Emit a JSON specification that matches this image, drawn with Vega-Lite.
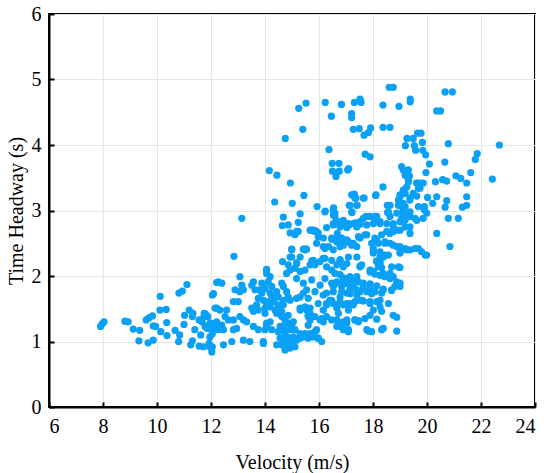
{
  "$schema": "https://vega.github.io/schema/vega-lite/v6.json",
  "width": 486,
  "height": 393,
  "autosize": "none",
  "padding": {"left": 49, "top": 14, "right": 15, "bottom": 66},
  "background": "white",
  "config": {"view": {"stroke": "black", "strokeWidth": 2}, "font": "Liberation Serif"},
  "data": {"values": [
{"v":18.6,"h":4.88},{"v":18.75,"h":4.88},{"v":20.67,"h":4.81},{"v":20.94,"h":4.81},{"v":15.25,"h":4.56},{"v":15.52,"h":4.64},{"v":16.23,"h":4.65},{"v":16.83,"h":4.62},{"v":17.31,"h":4.65},{"v":17.52,"h":4.7},{"v":17.56,"h":4.65},{"v":18.37,"h":4.61},{"v":18.96,"h":4.59},{"v":19.38,"h":4.7},{"v":19.38,"h":4.66},{"v":20.36,"h":4.52},{"v":20.5,"h":4.52},{"v":16.46,"h":4.44},{"v":17.21,"h":4.48},{"v":17.21,"h":4.42},{"v":15.4,"h":4.24},{"v":14.75,"h":4.1},{"v":17.27,"h":4.24},{"v":17.49,"h":4.25},{"v":17.91,"h":4.26},{"v":17.83,"h":4.19},{"v":17.67,"h":4.15},{"v":18.37,"h":4.27},{"v":18.63,"h":4.27},{"v":19.26,"h":4.1},{"v":19.49,"h":4.1},{"v":19.65,"h":4.18},{"v":19.78,"h":4.18},{"v":19.2,"h":3.99},{"v":19.53,"h":3.99},{"v":19.83,"h":4.04},{"v":19.58,"h":3.92},{"v":19.84,"h":3.92},{"v":19.95,"h":3.85},{"v":20.79,"h":4.02},{"v":22.68,"h":4.0},{"v":16.37,"h":3.93},{"v":17.71,"h":3.86},{"v":17.89,"h":3.82},{"v":16.49,"h":3.72},{"v":16.74,"h":3.72},{"v":16.5,"h":3.6},{"v":16.75,"h":3.6},{"v":16.63,"h":3.52},{"v":17.06,"h":3.62},{"v":17.1,"h":3.64},{"v":14.16,"h":3.61},{"v":14.44,"h":3.54},{"v":14.94,"h":3.42},{"v":15.44,"h":3.23},{"v":14.36,"h":3.13},{"v":15.01,"h":3.11},{"v":14.68,"h":2.9},{"v":15.3,"h":2.95},{"v":14.64,"h":2.77},{"v":14.86,"h":2.78},{"v":15.23,"h":2.82},{"v":15.93,"h":3.06},{"v":16.23,"h":2.99},{"v":16.54,"h":3.04},{"v":16.53,"h":3.0},{"v":17.12,"h":3.08},{"v":17.22,"h":2.97},{"v":17.31,"h":3.25},{"v":17.37,"h":3.19},{"v":17.41,"h":3.08},{"v":17.67,"h":3.19},{"v":18.1,"h":3.23},{"v":18.37,"h":3.36},{"v":16.59,"h":2.91},{"v":16.71,"h":2.83},{"v":16.84,"h":2.8},{"v":16.53,"h":2.78},{"v":17.11,"h":2.78},{"v":17.34,"h":2.81},{"v":17.52,"h":2.79},{"v":17.74,"h":2.91},{"v":17.89,"h":2.91},{"v":18.14,"h":2.91},{"v":18.07,"h":2.83},{"v":18.26,"h":2.8},{"v":18.53,"h":3.08},{"v":18.54,"h":2.97},{"v":18.63,"h":2.91},{"v":18.88,"h":2.96},{"v":18.94,"h":3.16},{"v":19.0,"h":3.24},{"v":19.12,"h":3.31},{"v":19.25,"h":3.36},{"v":19.06,"h":3.67},{"v":19.12,"h":3.62},{"v":19.31,"h":3.62},{"v":19.19,"h":3.54},{"v":19.35,"h":3.53},{"v":19.31,"h":3.47},{"v":19.62,"h":3.42},{"v":19.74,"h":3.42},{"v":19.86,"h":3.42},{"v":19.68,"h":3.34},{"v":19.49,"h":3.26},{"v":19.37,"h":3.19},{"v":19.62,"h":3.22},{"v":19.06,"h":3.06},{"v":19.19,"h":3.06},{"v":19.12,"h":2.98},{"v":19.25,"h":2.91},{"v":19.06,"h":2.88},{"v":19.37,"h":2.91},{"v":19.56,"h":2.88},{"v":19.86,"h":2.88},{"v":19.9,"h":3.06},{"v":19.9,"h":3.01},{"v":19.96,"h":3.58},{"v":20.09,"h":3.71},{"v":20.31,"h":3.44},{"v":20.58,"h":3.47},{"v":20.73,"h":3.45},{"v":20.66,"h":3.74},{"v":20.02,"h":3.2},{"v":20.36,"h":3.21},{"v":20.21,"h":3.11},{"v":20.73,"h":3.15},{"v":20.67,"h":3.05},{"v":21.07,"h":3.53},{"v":21.25,"h":3.49},{"v":21.47,"h":3.42},{"v":21.62,"h":3.58},{"v":21.79,"h":3.78},{"v":21.86,"h":3.87},{"v":21.47,"h":3.21},{"v":21.47,"h":3.08},{"v":21.31,"h":3.05},{"v":20.79,"h":2.88},{"v":21.16,"h":2.88},{"v":22.42,"h":3.48},
{"v":13.14,"h":2.88},{"v":12.85,"h":2.3},{"v":14.93,"h":2.66},{"v":15.11,"h":2.63},{"v":15.23,"h":2.68},{"v":15.73,"h":2.7},{"v":15.88,"h":2.69},{"v":15.97,"h":2.6},{"v":14.99,"h":2.41},{"v":15.42,"h":2.41},{"v":15.54,"h":2.41},{"v":14.93,"h":2.29},{"v":14.65,"h":2.22},{"v":15.17,"h":2.2},{"v":15.73,"h":2.23},{"v":14.06,"h":2.1},{"v":14.86,"h":2.17},
{"v":7.91,"h":1.23},{"v":7.97,"h":1.27},{"v":8.04,"h":1.3},{"v":8.81,"h":1.31},{"v":8.93,"h":1.3},{"v":9.12,"h":1.19},{"v":9.36,"h":1.17},{"v":9.33,"h":1.01},{"v":9.67,"h":0.98},{"v":9.86,"h":1.02},{"v":9.6,"h":1.33},{"v":9.7,"h":1.36},{"v":9.83,"h":1.39},{"v":9.86,"h":1.24},{"v":9.95,"h":1.23},{"v":10.12,"h":1.69},{"v":10.11,"h":1.48},{"v":10.34,"h":1.49},{"v":10.14,"h":1.15},{"v":10.36,"h":1.29},{"v":10.37,"h":1.09},{"v":10.81,"h":1.74},{"v":10.94,"h":1.77},{"v":11.11,"h":1.87},{"v":10.67,"h":1.17},{"v":10.84,"h":1.1},{"v":10.8,"h":1.0},{"v":11.0,"h":1.26},{"v":11.02,"h":1.4},{"v":11.19,"h":1.48},{"v":11.33,"h":1.43},{"v":11.31,"h":1.38},{"v":11.4,"h":1.18},{"v":11.62,"h":1.1},{"v":11.31,"h":1.01},{"v":11.25,"h":0.95},{"v":11.56,"h":0.93},{"v":11.56,"h":1.33},{"v":11.74,"h":1.38},{"v":11.8,"h":1.42},{"v":12.05,"h":1.71},{"v":12.21,"h":1.9},{"v":11.86,"h":1.2},{"v":11.99,"h":1.28},{"v":12.05,"h":1.12},{"v":11.93,"h":0.97},{"v":12.05,"h":0.92},{"v":12.03,"h":0.84},{"v":12.21,"h":1.51},{"v":12.23,"h":1.23},
{"v":15.67,"h":2.7},{"v":15.85,"h":2.68},{"v":15.97,"h":2.66},{"v":16.28,"h":2.74},{"v":16.47,"h":2.58},{"v":16.53,"h":2.8},{"v":16.68,"h":2.65},{"v":16.78,"h":2.78},{"v":17.03,"h":2.74},{"v":16.9,"h":2.55},{"v":16.66,"h":2.55},{"v":16.35,"h":2.45},{"v":16.16,"h":2.45},{"v":15.91,"h":2.5},{"v":15.48,"h":2.41},{"v":14.99,"h":2.29},{"v":15.79,"h":2.24},{"v":15.85,"h":2.17},{"v":16.04,"h":2.22},{"v":16.22,"h":2.27},{"v":16.28,"h":2.14},{"v":16.47,"h":2.09},{"v":16.66,"h":2.17},{"v":16.78,"h":2.24},{"v":17.03,"h":2.19},{"v":16.59,"h":2.04},{"v":16.78,"h":2.02},{"v":17.03,"h":1.96},{"v":16.9,"h":1.91},{"v":16.66,"h":1.91},{"v":16.47,"h":1.89},{"v":14.06,"h":2.09},{"v":14.06,"h":2.04},{"v":14.19,"h":1.99},{"v":14.12,"h":1.91},{"v":13.88,"h":1.89},{"v":13.57,"h":1.91},{"v":13.51,"h":1.86},{"v":13.63,"h":1.79},{"v":13.81,"h":1.79},{"v":14.0,"h":1.81},{"v":14.25,"h":1.84},{"v":14.43,"h":1.76},{"v":14.62,"h":1.89},{"v":14.68,"h":1.84},{"v":14.8,"h":1.76},{"v":14.86,"h":1.68},{"v":14.93,"h":1.63},{"v":14.68,"h":1.63},{"v":14.49,"h":1.68},{"v":14.25,"h":1.68},{"v":14.31,"h":1.61},{"v":14.06,"h":1.61},{"v":13.94,"h":1.63},{"v":13.75,"h":1.66},{"v":13.07,"h":1.99},{"v":13.14,"h":1.86},{"v":12.89,"h":1.79},{"v":13.07,"h":1.76},{"v":13.2,"h":1.79},{"v":12.83,"h":1.61},{"v":13.01,"h":1.61},{"v":12.27,"h":1.91},{"v":12.4,"h":1.89},{"v":12.09,"h":1.73},{"v":12.15,"h":1.51},{"v":12.33,"h":1.48},{"v":12.58,"h":1.48},{"v":12.52,"h":1.38},{"v":12.64,"h":1.33},{"v":12.83,"h":1.33},{"v":13.07,"h":1.38},{"v":13.2,"h":1.33},{"v":13.32,"h":1.3},{"v":13.51,"h":1.51},{"v":13.57,"h":1.46},{"v":13.69,"h":1.56},{"v":13.75,"h":1.48},{"v":14.0,"h":1.51},{"v":14.19,"h":1.53},{"v":14.37,"h":1.48},{"v":14.49,"h":1.53},{"v":14.62,"h":1.46},{"v":14.68,"h":1.38},{"v":14.74,"h":1.33},{"v":11.75,"h":1.43},{"v":11.88,"h":1.38},{"v":11.67,"h":1.3},{"v":11.78,"h":1.23},{"v":11.96,"h":1.28},{"v":12.09,"h":1.2},{"v":12.27,"h":1.18},{"v":12.46,"h":1.18},{"v":12.21,"h":1.3},{"v":12.4,"h":1.25},{"v":12.83,"h":1.18},{"v":12.95,"h":1.2},{"v":11.96,"h":1.07},{"v":11.96,"h":0.92},{"v":11.72,"h":0.92},{"v":12.46,"h":0.95},{"v":12.77,"h":1.0},{"v":13.2,"h":1.02},{"v":13.44,"h":1.0},{"v":13.94,"h":1.0},{"v":13.75,"h":1.18},{"v":13.57,"h":1.23},{"v":14.06,"h":1.25},{"v":14.19,"h":1.3},{"v":14.0,"h":1.18},{"v":14.25,"h":1.18},{"v":15.3,"h":1.48},{"v":15.48,"h":1.53},{"v":15.6,"h":1.4},{"v":15.67,"h":1.33},{"v":15.85,"h":1.38},{"v":16.04,"h":1.33},{"v":16.16,"h":1.48},{"v":16.28,"h":1.56},{"v":16.41,"h":1.63},{"v":16.53,"h":1.58},{"v":16.66,"h":1.51},{"v":16.78,"h":1.61},{"v":17.03,"h":1.58},{"v":17.09,"h":1.48},{"v":16.28,"h":1.38},{"v":16.47,"h":1.33},{"v":16.66,"h":1.33},{"v":16.78,"h":1.23},{"v":17.03,"h":1.28},{"v":15.91,"h":1.18},{"v":15.79,"h":1.07},{"v":15.97,"h":1.05},{"v":15.48,"h":1.12},{"v":15.3,"h":1.05},{"v":15.6,"h":1.05},{"v":16.9,"h":1.18},{"v":17.09,"h":1.18},
{"v":15.17,"h":1.96},{"v":15.42,"h":1.89},{"v":15.54,"h":1.79},{"v":15.73,"h":1.94},{"v":15.3,"h":1.68},{"v":15.6,"h":1.66},{"v":15.85,"h":1.76},{"v":16.04,"h":1.86},{"v":16.16,"h":1.71},{"v":16.22,"h":1.96},{"v":14.8,"h":2.04},{"v":14.93,"h":2.09},{"v":15.11,"h":2.12},{"v":15.3,"h":2.07},
{"v":17.4,"h":2.8},{"v":17.77,"h":2.78},{"v":18.01,"h":2.8},{"v":18.75,"h":2.8},{"v":19.0,"h":2.83},{"v":19.19,"h":2.75},{"v":19.37,"h":2.65},{"v":19.62,"h":2.85},{"v":20.36,"h":2.65},{"v":20.85,"h":2.45},{"v":19.93,"h":2.32},{"v":19.68,"h":2.42},{"v":19.37,"h":2.4},{"v":19.19,"h":2.42},{"v":19.0,"h":2.35},{"v":18.88,"h":2.45},{"v":18.63,"h":2.5},{"v":18.44,"h":2.5},{"v":18.57,"h":2.32},{"v":18.26,"h":2.29},{"v":18.01,"h":2.37},{"v":17.95,"h":2.5},{"v":18.14,"h":2.55},{"v":18.32,"h":2.63},{"v":18.51,"h":2.68},{"v":18.75,"h":2.68},{"v":17.7,"h":2.63},{"v":17.46,"h":2.6},{"v":17.03,"h":2.55},{"v":16.9,"h":2.47},{"v":17.21,"h":2.47},{"v":17.4,"h":2.45},{"v":16.78,"h":2.22},{"v":16.9,"h":2.14},{"v":17.52,"h":2.14},{"v":17.89,"h":2.09},{"v":18.01,"h":2.07},{"v":18.26,"h":2.22},{"v":18.2,"h":2.14},{"v":18.38,"h":2.04},{"v":18.63,"h":2.04},{"v":18.75,"h":1.99},{"v":18.94,"h":2.14},{"v":19.0,"h":1.89},{"v":18.81,"h":1.84},{"v":18.69,"h":1.79},{"v":18.38,"h":1.79},{"v":18.32,"h":1.74},{"v":18.07,"h":1.76},{"v":17.89,"h":1.81},{"v":17.77,"h":1.76},{"v":17.64,"h":1.84},{"v":17.46,"h":1.91},{"v":17.27,"h":1.94},{"v":17.09,"h":1.94},{"v":16.96,"h":1.89},{"v":16.84,"h":1.84},{"v":17.15,"h":1.81},{"v":17.4,"h":1.79},{"v":17.03,"h":1.74},{"v":17.52,"h":1.63},{"v":17.33,"h":1.61},{"v":17.15,"h":1.58},{"v":16.9,"h":1.56},{"v":17.89,"h":1.61},{"v":18.14,"h":1.61},{"v":18.26,"h":1.53},{"v":18.32,"h":1.46},{"v":18.01,"h":1.48},{"v":17.89,"h":1.4},{"v":17.7,"h":1.35},{"v":18.14,"h":1.34},{"v":17.33,"h":1.33},{"v":17.46,"h":1.32},{"v":17.03,"h":1.33},{"v":16.9,"h":1.28},{"v":17.09,"h":1.15},{"v":17.83,"h":1.16},{"v":17.95,"h":1.15},{"v":18.32,"h":1.18},{"v":18.38,"h":1.2},{"v":18.75,"h":1.4},{"v":18.88,"h":1.37},{"v":18.88,"h":1.16},
{"v":13.94,"h":0.97},{"v":14.06,"h":1.28},{"v":13.88,"h":1.74},{"v":14.19,"h":1.74},{"v":14.31,"h":1.63},{"v":14.06,"h":1.56},{"v":14.49,"h":1.56},{"v":14.68,"h":1.56},{"v":14.86,"h":1.4},{"v":14.62,"h":1.38},{"v":14.43,"h":1.43},{"v":14.0,"h":1.43},{"v":14.49,"h":1.15},{"v":14.68,"h":1.23},{"v":14.86,"h":1.28},{"v":15.05,"h":1.3},{"v":14.74,"h":1.12},{"v":14.93,"h":1.18},{"v":15.11,"h":1.18},{"v":14.56,"h":1.05},{"v":14.74,"h":1.02},{"v":14.93,"h":1.05},{"v":15.05,"h":1.07},{"v":14.62,"h":0.95},{"v":14.8,"h":0.95},{"v":14.99,"h":0.97},{"v":14.43,"h":0.95},{"v":14.74,"h":0.87},{"v":14.93,"h":0.9},{"v":15.11,"h":0.92},{"v":15.17,"h":1.02},{"v":14.56,"h":1.23},{"v":14.99,"h":1.24},{"v":14.8,"h":1.07},{"v":14.68,"h":1.18},{"v":15.3,"h":1.12},{"v":15.42,"h":1.07},{"v":15.67,"h":1.12},{"v":15.85,"h":1.15},{"v":15.97,"h":1.05},{"v":15.6,"h":1.25},{"v":15.54,"h":1.48},{"v":15.3,"h":1.51},{"v":15.67,"h":1.51},{"v":15.42,"h":1.74},{"v":15.17,"h":1.66},{"v":15.67,"h":1.43},{"v":15.6,"h":1.38},{"v":15.97,"h":1.58},{"v":16.1,"h":1.35},{"v":16.16,"h":1.3},{"v":16.28,"h":1.58},{"v":16.47,"h":1.63},{"v":16.66,"h":1.56},{"v":16.72,"h":1.43},{"v":16.28,"h":1.74},{"v":16.53,"h":1.76},{"v":16.84,"h":1.76},{"v":17.15,"h":1.76},{"v":17.4,"h":1.71},{"v":17.58,"h":1.63},{"v":17.27,"h":1.56},{"v":16.78,"h":1.28},{"v":16.9,"h":1.3},{"v":16.66,"h":1.23},{"v":17.33,"h":1.33},{"v":17.46,"h":1.3},{"v":17.77,"h":1.18},{"v":16.1,"h":1.0},
{"v":16.22,"h":2.98},{"v":16.53,"h":3.03},{"v":16.53,"h":2.93},{"v":17.21,"h":3.24},{"v":17.33,"h":3.19},{"v":17.64,"h":3.19},{"v":17.4,"h":3.08},{"v":17.15,"h":3.08},{"v":17.21,"h":2.98},{"v":18.11,"h":3.24},{"v":19.0,"h":3.21},{"v":19.19,"h":3.26},{"v":19.31,"h":3.44},{"v":19.62,"h":3.42},{"v":19.74,"h":3.34},{"v":19.37,"h":3.16},{"v":19.12,"h":3.11},{"v":18.94,"h":3.08},{"v":18.63,"h":3.08},{"v":18.57,"h":2.98},{"v":19.12,"h":2.96},{"v":19.37,"h":2.98},{"v":19.68,"h":3.06},{"v":19.99,"h":2.96},{"v":19.19,"h":2.85},{"v":19.37,"h":2.75},{"v":19.0,"h":2.7},{"v":18.75,"h":2.75},{"v":18.51,"h":2.8},{"v":18.26,"h":2.83},{"v":18.07,"h":2.91},{"v":17.64,"h":2.88},{"v":17.52,"h":2.83},{"v":17.27,"h":2.8},{"v":17.4,"h":2.75},{"v":17.09,"h":2.8},{"v":16.9,"h":2.85},{"v":16.66,"h":2.83},{"v":16.78,"h":2.75},{"v":16.59,"h":2.96},{"v":15.17,"h":2.68},{"v":15.79,"h":2.7},{"v":16.16,"h":2.58},{"v":16.47,"h":2.56},{"v":16.84,"h":2.58},{"v":17.09,"h":2.52},{"v":17.27,"h":2.5},{"v":17.52,"h":2.58},{"v":17.77,"h":2.63},{"v":18.07,"h":2.58},{"v":18.2,"h":2.5},{"v":18.01,"h":2.42},{"v":18.26,"h":2.37},{"v":18.44,"h":2.52},{"v":18.63,"h":2.65},{"v":18.88,"h":2.7},{"v":18.75,"h":2.47},{"v":19.0,"h":2.45},{"v":19.25,"h":2.4},{"v":19.56,"h":2.42},{"v":19.8,"h":2.37},{"v":19.99,"h":2.32},{"v":18.38,"h":2.29},{"v":18.14,"h":2.22},{"v":18.26,"h":2.19},{"v":17.58,"h":2.17},{"v":17.4,"h":2.29},{"v":17.09,"h":2.29},{"v":16.47,"h":2.24},{"v":16.16,"h":2.27},{"v":16.22,"h":2.42},{"v":16.53,"h":2.4},{"v":15.48,"h":2.4},{"v":15.3,"h":2.29},{"v":15.17,"h":2.19},{"v":15.67,"h":2.17},{"v":15.48,"h":2.09},{"v":14.99,"h":2.4},{"v":16.78,"h":2.45},{"v":16.66,"h":2.52},
{"v":18.01,"h":2.35},{"v":18.44,"h":2.32},{"v":19.0,"h":2.36},{"v":16.78,"h":2.25},{"v":17.52,"h":2.15},{"v":18.14,"h":2.23},{"v":18.32,"h":2.13},{"v":18.69,"h":2.14},{"v":19.0,"h":2.13},{"v":17.89,"h":2.06},{"v":18.07,"h":2.03},{"v":18.26,"h":2.01},{"v":18.44,"h":1.99},{"v":18.63,"h":1.96},{"v":18.88,"h":1.91},{"v":17.4,"h":1.99},{"v":17.15,"h":1.99},{"v":16.9,"h":1.97},{"v":16.59,"h":1.88},{"v":16.53,"h":1.84},{"v":17.02,"h":1.89},{"v":17.27,"h":1.85},{"v":17.64,"h":1.89},{"v":17.89,"h":1.88},{"v":18.14,"h":1.85},{"v":18.38,"h":1.8},{"v":18.69,"h":1.78},{"v":19.0,"h":1.84},{"v":17.95,"h":1.73},{"v":17.52,"h":1.76},{"v":17.15,"h":1.73},{"v":16.78,"h":1.68},{"v":16.41,"h":1.63},{"v":17.64,"h":1.62},{"v":17.89,"h":1.58},{"v":18.26,"h":1.63},{"v":18.57,"h":1.58}
  ]},
  "mark": {"type": "circle", "size": 52, "opacity": 1, "color": "#0aa0f5"},
  "encoding": {
    "x": {
      "field": "v", "type": "quantitative",
      "scale": {"domain": [6, 24], "nice": false, "zero": false},
      "axis": {
        "title": "Velocity (m/s)",
        "values": [6, 8, 10, 12, 14, 16, 18, 20, 22, 24],
        "tickSize": -5, "tickColor": "black", "tickWidth": 2,
        "domainColor": "black", "domainWidth": 2,
        "gridColor": "#e6e6e6", "gridWidth": 1,
        "labelFont": "Liberation Serif", "labelFontSize": 20, "labelColor": "black", "labelPadding": 14,
        "titleFont": "Liberation Serif", "titleFontSize": 20, "titleFontWeight": "normal", "titleColor": "black", "titlePadding": 16
      }
    },
    "y": {
      "field": "h", "type": "quantitative",
      "scale": {"domain": [0, 6], "nice": false},
      "axis": {
        "title": "Time Headway (s)",
        "values": [0, 1, 2, 3, 4, 5, 6],
        "tickSize": -5, "tickColor": "black", "tickWidth": 2,
        "domainColor": "black", "domainWidth": 2,
        "gridColor": "#e6e6e6", "gridWidth": 1,
        "labelFont": "Liberation Serif", "labelFontSize": 20, "labelColor": "black", "labelPadding": 13,
        "titleFont": "Liberation Serif", "titleFontSize": 20, "titleFontWeight": "normal", "titleColor": "black", "titlePadding": 5
      }
    }
  }
}
